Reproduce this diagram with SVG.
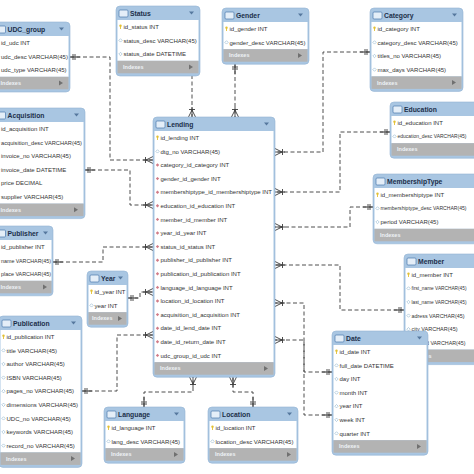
<svg xmlns="http://www.w3.org/2000/svg" width="474" height="474" viewBox="0 0 474 474">
<style>
.bg{fill:#fff}
.frame{fill:#a9c6e2;stroke:#93b4d3;stroke-width:.6}
.body{fill:#fff}
.tt{font:bold 6.8px "Liberation Sans",Arial,sans-serif;fill:#1c2f4a}
.rt{font:6px "Liberation Sans",Arial,sans-serif;fill:#333}
.rs{font:5.5px "Liberation Sans",Arial,sans-serif;fill:#333}
.ix{fill:#b3b3b3}
.it{font:bold 5.5px "Liberation Sans",Arial,sans-serif;fill:#eef2f6}
.ti{fill:#e4eef8;stroke:#4a78ad;stroke-width:.7}
.dd{fill:#56789e}
.ar{fill:#707070}
.cn{fill:none;stroke:#3a3a3a;stroke-width:.9;stroke-dasharray:4 2.5;marker-start:url(#one);marker-end:url(#many)}
</style>
<defs>
<g id="pk"><circle cx="0" cy="-1.1" r="1.2" fill="#e3c032"/><rect x="-.45" y="-.4" width=".9" height="2.6" fill="#e3c032"/></g>
<path id="col" d="M0,-1.7L1.7,0L0,1.7L-1.7,0Z" fill="#fff" stroke="#8fb4cc" stroke-width=".6"/>
<path id="fk" d="M0,-1.7L1.7,0L0,1.7L-1.7,0Z" fill="#d27c88"/>
<marker id="one" markerUnits="userSpaceOnUse" markerWidth="10" markerHeight="10" viewBox="0 0 10 10" refX="10" refY="5" orient="auto-start-reverse">
<path d="M0,5H10M5,2V8M7,2V8" fill="none" stroke="#3a3a3a" stroke-width=".9"/>
</marker>
<marker id="many" markerUnits="userSpaceOnUse" markerWidth="10" markerHeight="10" viewBox="0 0 10 10" refX="10" refY="5" orient="auto-start-reverse">
<path d="M2.5,2V8M3,5L10,1.5M3,5L10,8.5M0,5H10" fill="none" stroke="#3a3a3a" stroke-width=".9"/>
</marker>
</defs>
<rect class="bg" width="474" height="474"/>

<g id="connectors">
<path class="cn" d="M70,57H110V160H153"/>
<path class="cn" d="M85,170H130V205H153"/>
<path class="cn" d="M53,262H103V247H153"/>
<path class="cn" d="M128,298H140V292H153"/>
<path class="cn" d="M82,391H117V335H153"/>
<path class="cn" d="M144,407V392H193V377"/>
<path class="cn" d="M253,407V392H233V377"/>
<path class="cn" d="M192,62V117"/>
<path class="cn" d="M235,64V117"/>
<path class="cn" d="M370,52H323V152H275"/>
<path class="cn" d="M390,132H340V192H275"/>
<path class="cn" d="M373,207H350V227H275"/>
<path class="cn" d="M404,310H340V265H275"/>
<path class="cn" d="M332,372H304V303H275"/>
<path class="cn" d="M332,415H304V340H275"/>
</g>

<g id="udc_group" transform="translate(-6.5,22)">
<rect class="frame" width="76.5" height="70" rx="4"/>
<rect class="body" x="1.5" y="14" width="73.5" height="40.8"/>
<rect class="ti" x="3" y="4" width="9" height="7" rx="1"/>
<text class="tt" x="14" y="10">UDC_group</text>
<path class="dd" d="M65.5,5.5h5l-2.5,3z"/>
<use href="#pk" x="4.5" y="20.8"/><text class="rt" x="7.5" y="22.9">id_udc INT</text>
<use href="#col" x="4.5" y="34.4"/><text class="rt" x="7.5" y="36.5">udc_desc VARCHAR(45)</text>
<use href="#col" x="4.5" y="48"/><text class="rt" x="7.5" y="50.1">udc_type VARCHAR(45)</text>
<rect class="ix" x="1.5" y="54.8" width="73.5" height="12.5"/>
<text class="it" x="7" y="63">Indexes</text>
<path class="ar" d="M65.5,58.5l4,2.5l-4,2.5z"/>
</g>

<g id="status" transform="translate(116,6)">
<rect class="frame" width="84" height="70" rx="4"/>
<rect class="body" x="1.5" y="14" width="81" height="40.8"/>
<rect class="ti" x="3" y="4" width="9" height="7" rx="1"/>
<text class="tt" x="14" y="10">Status</text>
<path class="dd" d="M73,5.5h5l-2.5,3z"/>
<use href="#pk" x="4.5" y="20.8"/><text class="rt" x="7.5" y="22.9">id_status INT</text>
<use href="#col" x="4.5" y="34.4"/><text class="rt" x="7.5" y="36.5">status_desc VARCHAR(45)</text>
<use href="#col" x="4.5" y="48"/><text class="rt" x="7.5" y="50.1">status_date DATETIME</text>
<rect class="ix" x="1.5" y="54.8" width="81" height="12.5"/>
<text class="it" x="7" y="63">Indexes</text>
<path class="ar" d="M73,58.5l4,2.5l-4,2.5z"/>
</g>

<g id="gender" transform="translate(222,8)">
<rect class="frame" width="87" height="56.2" rx="4"/>
<rect class="body" x="1.5" y="14" width="84" height="27.2"/>
<rect class="ti" x="3" y="4" width="9" height="7" rx="1"/>
<text class="tt" x="14" y="10">Gender</text>
<path class="dd" d="M76,5.5h5l-2.5,3z"/>
<use href="#pk" x="4.5" y="20.8"/><text class="rt" x="7.5" y="22.9">id_gender INT</text>
<use href="#col" x="4.5" y="34.4"/><text class="rt" x="7.5" y="36.5">gender_desc VARCHAR(45)</text>
<rect class="ix" x="1.5" y="41.2" width="84" height="12.5"/>
<text class="it" x="7" y="49.4">Indexes</text>
<path class="ar" d="M76,44.9l4,2.5l-4,2.5z"/>
</g>

<g id="category" transform="translate(370,8)">
<rect class="frame" width="93" height="83.4" rx="4"/>
<rect class="body" x="1.5" y="14" width="90" height="54.4"/>
<rect class="ti" x="3" y="4" width="9" height="7" rx="1"/>
<text class="tt" x="14" y="10">Category</text>
<path class="dd" d="M82,5.5h5l-2.5,3z"/>
<use href="#pk" x="4.5" y="20.8"/><text class="rt" x="7.5" y="22.9">id_category INT</text>
<use href="#col" x="4.5" y="34.4"/><text class="rt" x="7.5" y="36.5">category_desc VARCHAR(45)</text>
<use href="#col" x="4.5" y="48"/><text class="rt" x="7.5" y="50.1">titles_no VARCHAR(45)</text>
<use href="#col" x="4.5" y="61.6"/><text class="rt" x="7.5" y="63.7">max_days VARCHAR(45)</text>
<rect class="ix" x="1.5" y="68.4" width="90" height="12.5"/>
<text class="it" x="7" y="76.6">Indexes</text>
<path class="ar" d="M82,72.1l4,2.5l-4,2.5z"/>
</g>

<g id="acquisition" transform="translate(-6.5,108)">
<rect class="frame" width="91.5" height="110.6" rx="4"/>
<rect class="body" x="1.5" y="14" width="88.5" height="81.6"/>
<rect class="ti" x="3" y="4" width="9" height="7" rx="1"/>
<text class="tt" x="14" y="10">Acquisition</text>
<path class="dd" d="M80.5,5.5h5l-2.5,3z"/>
<use href="#pk" x="4.5" y="20.8"/><text class="rt" x="7.5" y="22.9">id_acquisition INT</text>
<use href="#col" x="4.5" y="34.4"/><text class="rt" x="7.5" y="36.5" textLength="81" lengthAdjust="spacingAndGlyphs">acquisition_desc VARCHAR(45)</text>
<use href="#col" x="4.5" y="48"/><text class="rt" x="7.5" y="50.1">invoice_no VARCHAR(45)</text>
<use href="#col" x="4.5" y="61.6"/><text class="rt" x="7.5" y="63.7">invoice_date DATETIME</text>
<use href="#col" x="4.5" y="75.2"/><text class="rt" x="7.5" y="77.3">price DECIMAL</text>
<use href="#col" x="4.5" y="88.8"/><text class="rt" x="7.5" y="90.9">supplier VARCHAR(45)</text>
<rect class="ix" x="1.5" y="95.6" width="88.5" height="12.5"/>
<text class="it" x="7" y="103.8">Indexes</text>
<path class="ar" d="M80.5,99.3l4,2.5l-4,2.5z"/>
</g>

<g id="lending" transform="translate(153,117)">
<rect class="frame" width="122" height="260.2" rx="4"/>
<rect class="body" x="1.5" y="14" width="119" height="231.2"/>
<rect class="ti" x="3" y="4" width="9" height="7" rx="1"/>
<text class="tt" x="14" y="10">Lending</text>
<path class="dd" d="M111,5.5h5l-2.5,3z"/>
<use href="#pk" x="4.5" y="20.8"/><text class="rt" x="7.5" y="22.9">id_lending INT</text>
<use href="#col" x="4.5" y="34.4"/><text class="rt" x="7.5" y="36.5">dtg_no VARCHAR(45)</text>
<use href="#fk" x="4.5" y="48"/><text class="rt" x="7.5" y="50.1">category_id_category INT</text>
<use href="#fk" x="4.5" y="61.6"/><text class="rt" x="7.5" y="63.7">gender_id_gender INT</text>
<use href="#fk" x="4.5" y="75.2"/><text class="rt" x="7.5" y="77.3">membershiptype_id_membershiptype INT</text>
<use href="#fk" x="4.5" y="88.8"/><text class="rt" x="7.5" y="90.9">education_id_education INT</text>
<use href="#fk" x="4.5" y="102.4"/><text class="rt" x="7.5" y="104.5">member_id_member INT</text>
<use href="#fk" x="4.5" y="116"/><text class="rt" x="7.5" y="118.1">year_id_year INT</text>
<use href="#fk" x="4.5" y="129.6"/><text class="rt" x="7.5" y="131.7">status_id_status INT</text>
<use href="#fk" x="4.5" y="143.2"/><text class="rt" x="7.5" y="145.3">publisher_id_publisher INT</text>
<use href="#fk" x="4.5" y="156.8"/><text class="rt" x="7.5" y="158.9">publication_id_publication INT</text>
<use href="#fk" x="4.5" y="170.4"/><text class="rt" x="7.5" y="172.5">language_id_language INT</text>
<use href="#fk" x="4.5" y="184"/><text class="rt" x="7.5" y="186.1">location_id_location INT</text>
<use href="#fk" x="4.5" y="197.6"/><text class="rt" x="7.5" y="199.7">acquisition_id_acquisition INT</text>
<use href="#fk" x="4.5" y="211.2"/><text class="rt" x="7.5" y="213.3">date_id_lend_date INT</text>
<use href="#fk" x="4.5" y="224.8"/><text class="rt" x="7.5" y="226.9">date_id_return_date INT</text>
<use href="#fk" x="4.5" y="238.4"/><text class="rt" x="7.5" y="240.5">udc_group_id_udc INT</text>
<rect class="ix" x="1.5" y="245.2" width="119" height="12.5"/>
<text class="it" x="7" y="253.4">Indexes</text>
<path class="ar" d="M111,248.9l4,2.5l-4,2.5z"/>
</g>

<g id="education" transform="translate(390,102)">
<rect class="frame" width="100" height="56.2" rx="4"/>
<rect class="body" x="1.5" y="14" width="97" height="27.2"/>
<rect class="ti" x="3" y="4" width="9" height="7" rx="1"/>
<text class="tt" x="14" y="10">Education</text>
<use href="#pk" x="4.5" y="20.8"/><text class="rt" x="7.5" y="22.9">id_education INT</text>
<use href="#col" x="4.5" y="34.4"/><text class="rs" x="7.5" y="36.4" textLength="69" lengthAdjust="spacingAndGlyphs">education_desc VARCHAR(45)</text>
<rect class="ix" x="1.5" y="41.2" width="97" height="12.5"/>
<text class="it" x="7" y="49.4">Indexes</text>
</g>

<g id="membershiptype" transform="translate(373,174)">
<rect class="frame" width="115" height="69.8" rx="4"/>
<rect class="body" x="1.5" y="14" width="112" height="40.8"/>
<rect class="ti" x="3" y="4" width="9" height="7" rx="1"/>
<text class="tt" x="14" y="10">MembershipType</text>
<use href="#pk" x="4.5" y="20.8"/><text class="rt" x="7.5" y="22.9">id_membershiptype INT</text>
<use href="#col" x="4.5" y="34.4"/><text class="rs" x="7.5" y="36.4" textLength="86" lengthAdjust="spacingAndGlyphs">membershiptype_desc VARCHAR(45)</text>
<use href="#col" x="4.5" y="48"/><text class="rt" x="7.5" y="50.1">period VARCHAR(45)</text>
<rect class="ix" x="1.5" y="54.8" width="112" height="12.5"/>
<text class="it" x="7" y="63">Indexes</text>
</g>

<g id="publisher" transform="translate(-6.5,226)">
<rect class="frame" width="59.5" height="69.8" rx="4"/>
<rect class="body" x="1.5" y="14" width="56.5" height="40.8"/>
<rect class="ti" x="3" y="4" width="9" height="7" rx="1"/>
<text class="tt" x="14" y="10">Publisher</text>
<path class="dd" d="M49.5,5.5h5l-2.5,3z"/>
<use href="#pk" x="4.5" y="20.8"/><text class="rt" x="7.5" y="22.9">id_publisher INT</text>
<use href="#col" x="4.5" y="34.4"/><text class="rt" x="7.5" y="36.5" textLength="50" lengthAdjust="spacingAndGlyphs">name VARCHAR(45)</text>
<use href="#col" x="4.5" y="48"/><text class="rt" x="7.5" y="50.1" textLength="50" lengthAdjust="spacingAndGlyphs">place VARCHAR(45)</text>
<rect class="ix" x="1.5" y="54.8" width="56.5" height="12.5"/>
<text class="it" x="7" y="63">Indexes</text>
<path class="ar" d="M49.5,58.5l4,2.5l-4,2.5z"/>
</g>

<g id="year" transform="translate(87,271)">
<rect class="frame" width="41" height="56.2" rx="4"/>
<rect class="body" x="1.5" y="14" width="38" height="27.2"/>
<rect class="ti" x="3" y="4" width="9" height="7" rx="1"/>
<text class="tt" x="14" y="10">Year</text>
<path class="dd" d="M31,5.5h5l-2.5,3z"/>
<use href="#pk" x="4.5" y="20.8"/><text class="rt" x="7.5" y="22.9">id_year INT</text>
<use href="#col" x="4.5" y="34.4"/><text class="rt" x="7.5" y="36.5">year INT</text>
<rect class="ix" x="1.5" y="41.2" width="38" height="12.5"/>
<text class="it" x="5" y="49.4">Indexes</text>
<path class="ar" d="M31,44.9l4,2.5l-4,2.5z"/>
</g>

<g id="member" transform="translate(404,254)">
<rect class="frame" width="90" height="110.6" rx="4"/>
<rect class="body" x="1.5" y="14" width="87" height="81.6"/>
<rect class="ti" x="3" y="4" width="9" height="7" rx="1"/>
<text class="tt" x="14" y="10">Member</text>
<use href="#pk" x="4.5" y="20.8"/><text class="rt" x="7.5" y="22.9">id_member INT</text>
<use href="#col" x="4.5" y="34.4"/><text class="rs" x="7.5" y="36.4" textLength="55" lengthAdjust="spacingAndGlyphs">first_name VARCHAR(45)</text>
<use href="#col" x="4.5" y="48"/><text class="rs" x="7.5" y="50" textLength="55" lengthAdjust="spacingAndGlyphs">last_name VARCHAR(45)</text>
<use href="#col" x="4.5" y="61.6"/><text class="rs" x="7.5" y="63.6" textLength="53" lengthAdjust="spacingAndGlyphs">adress VARCHAR(45)</text>
<use href="#col" x="4.5" y="75.2"/><text class="rs" x="7.5" y="77.2">city VARCHAR(45)</text>
<use href="#col" x="4.5" y="88.8"/><text class="rs" x="7.5" y="90.8" textLength="54" lengthAdjust="spacingAndGlyphs">user_id VARCHAR(45)</text>
<rect class="ix" x="1.5" y="95.6" width="87" height="12.5"/>
<text class="it" x="7" y="103.8">Indexes</text>
</g>

<g id="publication" transform="translate(-1,316)">
<rect class="frame" width="83" height="151.4" rx="4"/>
<rect class="body" x="1.5" y="14" width="80" height="122.4"/>
<rect class="ti" x="3" y="4" width="9" height="7" rx="1"/>
<text class="tt" x="14" y="10">Publication</text>
<path class="dd" d="M72,5.5h5l-2.5,3z"/>
<use href="#pk" x="4.5" y="20.8"/><text class="rt" x="7.5" y="22.9">id_publication INT</text>
<use href="#col" x="4.5" y="34.4"/><text class="rt" x="7.5" y="36.5">title VARCHAR(45)</text>
<use href="#col" x="4.5" y="48"/><text class="rt" x="7.5" y="50.1">author VARCHAR(45)</text>
<use href="#col" x="4.5" y="61.6"/><text class="rt" x="7.5" y="63.7">ISBN VARCHAR(45)</text>
<use href="#col" x="4.5" y="75.2"/><text class="rt" x="7.5" y="77.3">pages_no VARCHAR(45)</text>
<use href="#col" x="4.5" y="88.8"/><text class="rt" x="7.5" y="90.9">dimensions VARCHAR(45)</text>
<use href="#col" x="4.5" y="102.4"/><text class="rt" x="7.5" y="104.5">UDC_no VARCHAR(45)</text>
<use href="#col" x="4.5" y="116"/><text class="rt" x="7.5" y="118.1">keywords VARCHAR(45)</text>
<use href="#col" x="4.5" y="129.6"/><text class="rt" x="7.5" y="131.7">record_no VARCHAR(45)</text>
<rect class="ix" x="1.5" y="136.4" width="80" height="12.5"/>
<text class="it" x="7" y="144.6">Indexes</text>
<path class="ar" d="M72,140.1l4,2.5l-4,2.5z"/>
</g>

<g id="language" transform="translate(104,407)">
<rect class="frame" width="81" height="56.2" rx="4"/>
<rect class="body" x="1.5" y="14" width="78" height="27.2"/>
<rect class="ti" x="3" y="4" width="9" height="7" rx="1"/>
<text class="tt" x="14" y="10">Language</text>
<path class="dd" d="M70,5.5h5l-2.5,3z"/>
<use href="#pk" x="4.5" y="20.8"/><text class="rt" x="7.5" y="22.9">id_language INT</text>
<use href="#col" x="4.5" y="34.4"/><text class="rt" x="7.5" y="36.5">lang_desc VARCHAR(45)</text>
<rect class="ix" x="1.5" y="41.2" width="78" height="12.5"/>
<text class="it" x="7" y="49.4">Indexes</text>
<path class="ar" d="M70,44.9l4,2.5l-4,2.5z"/>
</g>

<g id="location" transform="translate(208,407)">
<rect class="frame" width="90" height="56.2" rx="4"/>
<rect class="body" x="1.5" y="14" width="87" height="27.2"/>
<rect class="ti" x="3" y="4" width="9" height="7" rx="1"/>
<text class="tt" x="14" y="10">Location</text>
<path class="dd" d="M79,5.5h5l-2.5,3z"/>
<use href="#pk" x="4.5" y="20.8"/><text class="rt" x="7.5" y="22.9">id_location INT</text>
<use href="#col" x="4.5" y="34.4"/><text class="rt" x="7.5" y="36.5">location_desc VARCHAR(45)</text>
<rect class="ix" x="1.5" y="41.2" width="87" height="12.5"/>
<text class="it" x="7" y="49.4">Indexes</text>
<path class="ar" d="M79,44.9l4,2.5l-4,2.5z"/>
</g>

<g id="date" transform="translate(332,331)">
<rect class="frame" width="96" height="124.2" rx="4"/>
<rect class="body" x="1.5" y="14" width="93" height="95.2"/>
<rect class="ti" x="3" y="4" width="9" height="7" rx="1"/>
<text class="tt" x="14" y="10">Date</text>
<path class="dd" d="M85,5.5h5l-2.5,3z"/>
<use href="#pk" x="4.5" y="20.8"/><text class="rt" x="7.5" y="22.9">id_date INT</text>
<use href="#col" x="4.5" y="34.4"/><text class="rt" x="7.5" y="36.5">full_date DATETIME</text>
<use href="#col" x="4.5" y="48"/><text class="rt" x="7.5" y="50.1">day INT</text>
<use href="#col" x="4.5" y="61.6"/><text class="rt" x="7.5" y="63.7">month INT</text>
<use href="#col" x="4.5" y="75.2"/><text class="rt" x="7.5" y="77.3">year INT</text>
<use href="#col" x="4.5" y="88.8"/><text class="rt" x="7.5" y="90.9">week INT</text>
<use href="#col" x="4.5" y="102.4"/><text class="rt" x="7.5" y="104.5">quarter INT</text>
<rect class="ix" x="1.5" y="109.2" width="93" height="12.5"/>
<text class="it" x="7" y="117.4">Indexes</text>
<path class="ar" d="M85,112.9l4,2.5l-4,2.5z"/>
</g>
</svg>
